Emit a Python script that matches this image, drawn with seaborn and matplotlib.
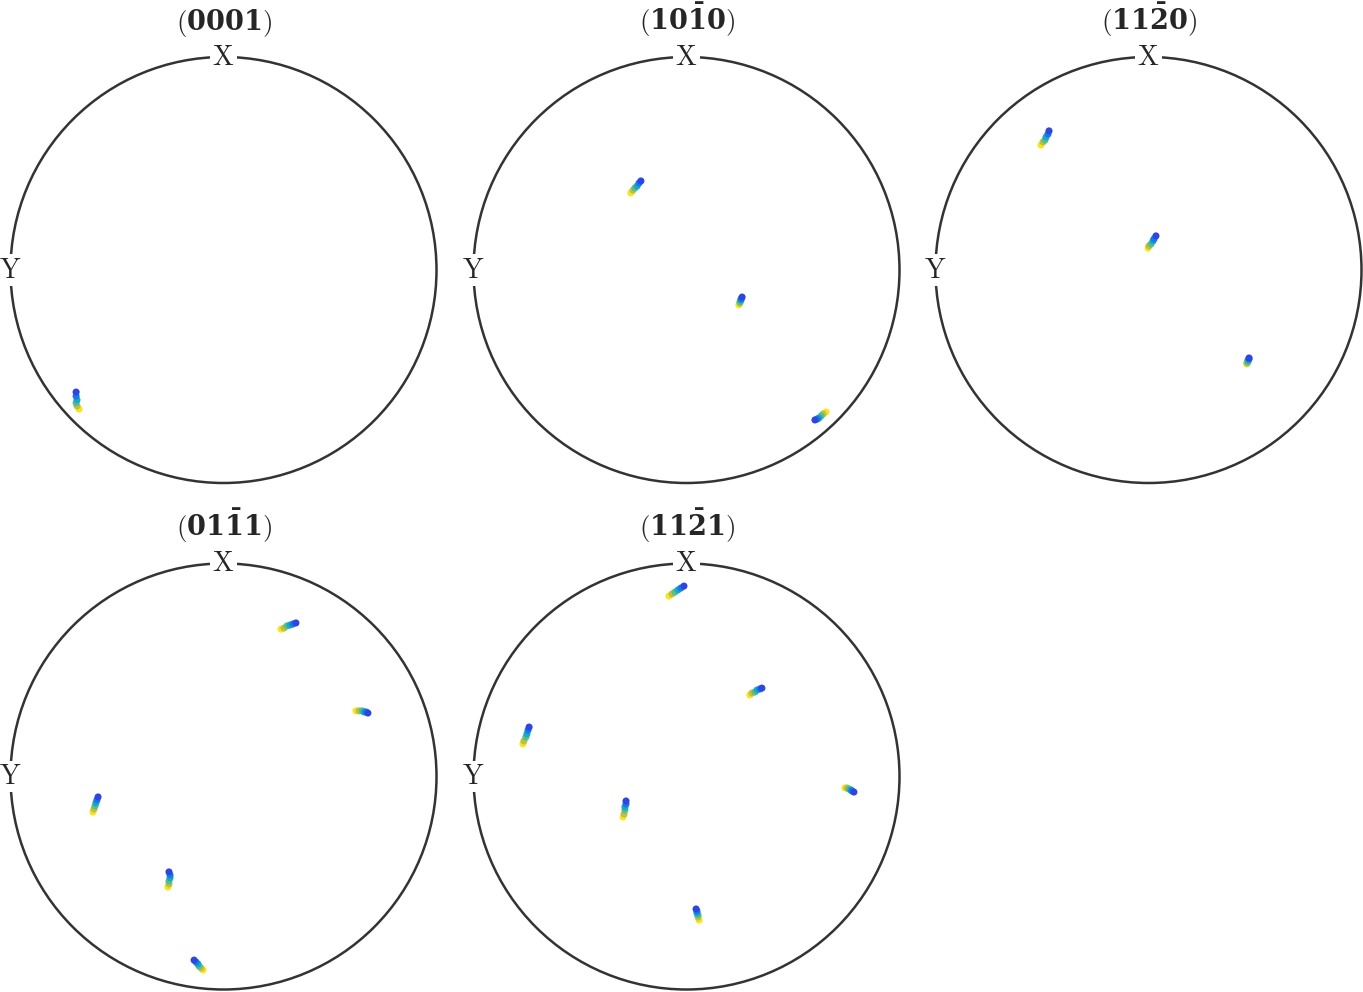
import numpy as np
import pandas as pd
import matplotlib
matplotlib.use("Agg")
import matplotlib.pyplot as plt
import seaborn as sns
from matplotlib.colors import LinearSegmentedColormap
from matplotlib.patches import Circle

sns.set_theme(style="white")
plt.rcParams["font.family"] = ["DejaVu Serif"]
plt.rcParams["mathtext.fontset"] = "custom"
plt.rcParams["mathtext.rm"] = "cmr10"
plt.rcParams["mathtext.bf"] = "DejaVu Serif:bold"

# ---------------- data ----------------
titles = [r"$(\mathbf{0001})$", r"$(\mathbf{10\bar{1}0})$", r"$(\mathbf{11\bar{2}0})$",
          r"$(\mathbf{01\bar{1}1})$", r"$(\mathbf{11\bar{2}1})$"]

# normalised time step of each orientation along a trail (blue -> yellow)
time_step = [0.0, 0.2, 0.4, 0.6, 0.8, 1.0]

# pole positions in the equal-area projection (unit disk), one list per trail
p0001_x = [[-0.692, -0.692, -0.688, -0.692, -0.688, -0.678]]
p0001_y = [[-0.573, -0.592, -0.610, -0.624, -0.638, -0.653]]

p1010_x = [[-0.214, -0.223, -0.232, -0.242, -0.251, -0.261],
           [0.261, 0.256, 0.256, 0.251, 0.251, 0.246],
           [0.603, 0.613, 0.622, 0.632, 0.641, 0.655]]
p1010_y = [[0.418, 0.408, 0.394, 0.385, 0.375, 0.362],
           [-0.127, -0.136, -0.141, -0.150, -0.155, -0.164],
           [-0.704, -0.700, -0.695, -0.685, -0.676, -0.667]]

p1120_x = [[-0.467, -0.472, -0.481, -0.486, -0.495, -0.505],
           [0.035, 0.026, 0.021, 0.012, 0.002, -0.002],
           [0.472, 0.472, 0.467, 0.467, 0.462, 0.462]]
p1120_y = [[0.653, 0.638, 0.624, 0.610, 0.601, 0.587],
           [0.160, 0.146, 0.136, 0.122, 0.113, 0.103],
           [-0.413, -0.418, -0.423, -0.432, -0.437, -0.441]]

p0111_x = [[0.340, 0.326, 0.312, 0.298, 0.284, 0.270],
           [0.678, 0.669, 0.660, 0.650, 0.636, 0.622],
           [-0.589, -0.594, -0.599, -0.603, -0.608, -0.613],
           [-0.256, -0.251, -0.251, -0.256, -0.256, -0.261],
           [-0.138, -0.129, -0.120, -0.115, -0.106, -0.096]]
p0111_y = [[0.721, 0.716, 0.711, 0.707, 0.697, 0.692],
           [0.298, 0.303, 0.303, 0.308, 0.308, 0.308],
           [-0.096, -0.110, -0.124, -0.138, -0.153, -0.167],
           [-0.448, -0.462, -0.476, -0.491, -0.505, -0.519],
           [-0.862, -0.871, -0.880, -0.890, -0.899, -0.908]]

p1121_x = [[-0.012, -0.026, -0.040, -0.054, -0.068, -0.082],
           [0.354, 0.345, 0.331, 0.322, 0.308, 0.298],
           [-0.739, -0.744, -0.749, -0.754, -0.763, -0.768],
           [0.786, 0.777, 0.772, 0.763, 0.754, 0.744],
           [-0.284, -0.284, -0.289, -0.289, -0.293, -0.298],
           [0.045, 0.049, 0.049, 0.054, 0.054, 0.059]]
p1121_y = [[0.894, 0.885, 0.876, 0.866, 0.857, 0.847],
           [0.415, 0.411, 0.406, 0.397, 0.392, 0.383],
           [0.232, 0.218, 0.200, 0.185, 0.167, 0.153],
           [-0.073, -0.068, -0.063, -0.059, -0.054, -0.054],
           [-0.115, -0.129, -0.143, -0.157, -0.176, -0.190],
           [-0.622, -0.631, -0.641, -0.650, -0.660, -0.674]]

panel_x = [p0001_x, p1010_x, p1120_x, p0111_x, p1121_x]
panel_y = [p0001_y, p1010_y, p1120_y, p0111_y, p1121_y]

rows = []
for pi, (px, py) in enumerate(zip(panel_x, panel_y)):
    for ci, (cx, cy) in enumerate(zip(px, py)):
        for xv, yv, tv in zip(cx, cy, time_step):
            rows.append({"panel": pi, "cluster": ci, "x": xv, "y": yv, "t": tv})
df = pd.DataFrame(rows)

# parula-like colormap
cmap = LinearSegmentedColormap.from_list(
    "parula_like",
    ["#2f45e0", "#1870ec", "#139fd8", "#22b9ad", "#7cc46a", "#d2bd3c", "#f8e51e"])

# ---------------- layout ----------------
W, H = 1363, 992
fig = plt.figure(figsize=(W / 100, H / 100), dpi=100)
R = 213.0
L = 1.2
centers = [(223.5, 270.0), (686.5, 270.0), (1148.5, 270.0),
           (223.5, 776.5), (686.5, 776.5)]

for pi, (cxp, cyp) in enumerate(centers):
    ax = fig.add_axes([(cxp - R * L) / W, 1 - (cyp + R * L) / H,
                       2 * R * L / W, 2 * R * L / H])
    ax.set_xlim(-L, L)
    ax.set_ylim(-L, L)
    ax.set_aspect("equal")
    ax.set_axis_off()
    ax.add_patch(Circle((0, 0), 1.0, fill=False, ec="#333333", lw=1.8, zorder=1))
    sub = df[df["panel"] == pi].sort_values("t", ascending=False)
    sns.scatterplot(data=sub, x="x", y="y", hue="t", palette=cmap, hue_norm=(0, 1),
                    s=26, linewidth=0, legend=False, ax=ax, zorder=3)
    bb = dict(boxstyle="square,pad=0.08", fc="white", ec="none")
    ax.text(0, 1.0, r"$\mathrm{X}$", ha="center", va="center", fontsize=20,
            bbox=bb, zorder=4)
    ax.text(-1.0, 0, r"$\mathrm{Y}$", ha="center", va="center", fontsize=20,
            bbox=bb, zorder=4)
    ax.text(0, 1.085, titles[pi], ha="center", va="bottom", fontsize=19.5, zorder=4)

fig.savefig("out.png", dpi=100)
